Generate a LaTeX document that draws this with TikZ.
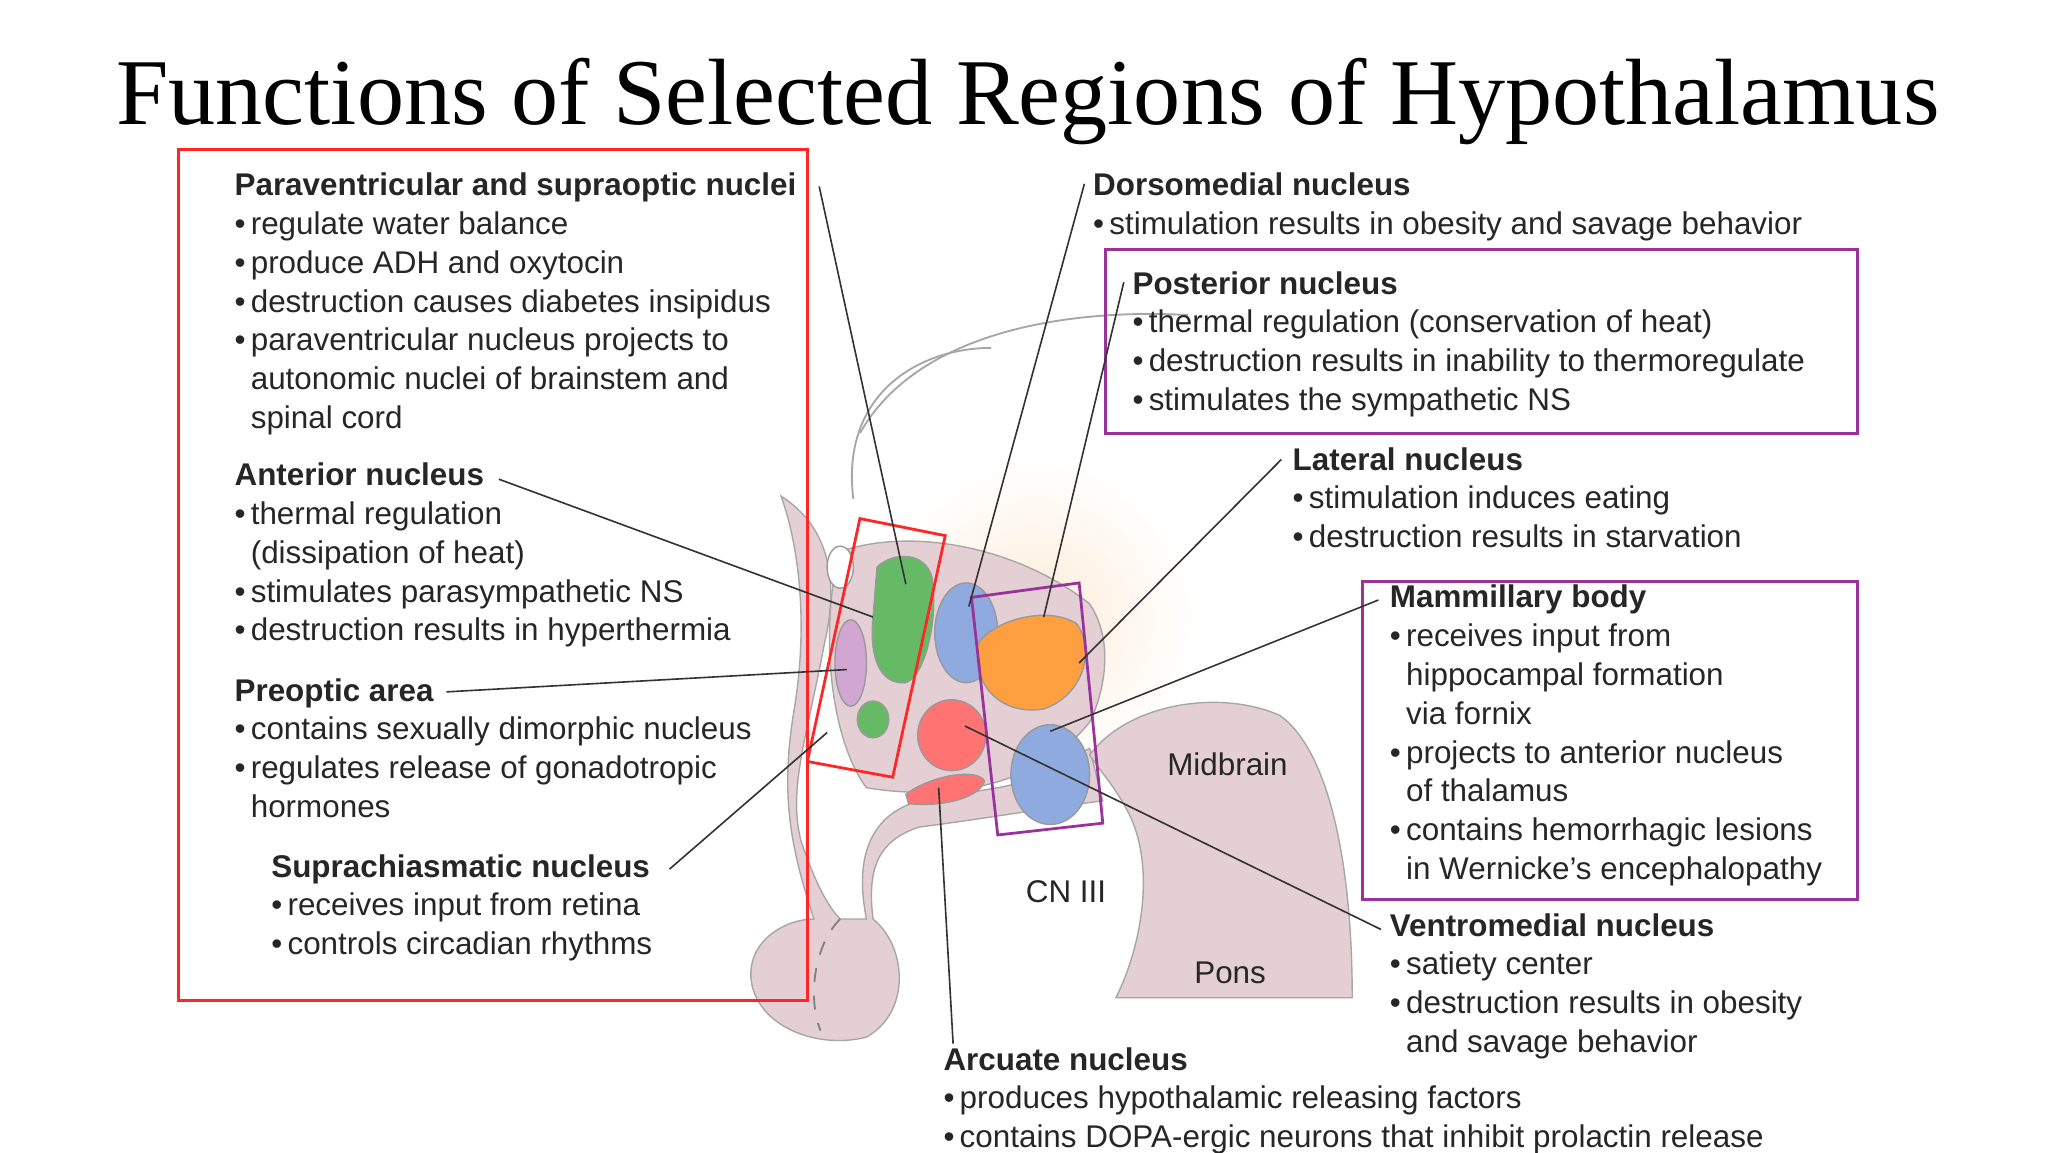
\documentclass[tikz,border=0pt]{standalone}
\usepackage{fontspec}
\setmainfont{Liberation Sans}
\newfontfamily\titlefont{Liberation Serif}
\definecolor{tis}{RGB}{228,208,212}
\begin{document}
\begin{tikzpicture}[x=0.01cm,y=-0.01cm,
  lbl/.style={anchor=north west,align=left,inner sep=0pt,font=\fontsize{6.8pt}{8.4pt}\selectfont,text=black!85},
  lead/.style={black!80,line width=0.35pt},
  tissue/.style={fill=tis,draw=black!35,line width=0.3pt},
  nuc/.style={draw=black!40,line width=0.3pt}]
\useasboundingbox (0,0) rectangle (1560,877.5);
\fill[white] (0,0) rectangle (1560,877.5);
\shade[inner color=orange!15,outer color=white] (790,470) ellipse [x radius=120,y radius=120];
\node[font=\titlefont\fontsize{20.4pt}{22pt}\selectfont] (title) at (783,77) {Functions of Selected Regions of Hypothalamus};
% anatomy
\draw[black!35,line width=0.4pt] (650,380) .. controls (640,300) and (700,265) .. (755,265);
\draw[black!35,line width=0.4pt] (655,330) .. controls (700,250) and (820,235) .. (905,240);
\draw[tissue] (595,378) .. controls (630,400) and (640,440) .. (628,490) .. controls (615,560) and (600,600) .. (610,640) .. controls (620,670) and (630,690) .. (640,700) -- (660,700) .. controls (650,650) and (665,620) .. (700,610) -- (760,600) .. controls (790,595) and (810,580) .. (830,570) -- (840,610) .. controls (800,615) and (740,625) .. (700,630) .. controls (670,640) and (660,660) .. (665,700) .. controls (690,720) and (695,770) .. (660,790) .. controls (620,800) and (575,780) .. (572,745) .. controls (570,715) and (600,700) .. (620,700) .. controls (600,640) and (595,600) .. (605,540) .. controls (615,480) and (610,420) .. (595,378) -- cycle;
\draw[tissue] (640,420) .. controls (700,400) and (780,420) .. (830,460) .. controls (850,490) and (840,530) .. (830,550) .. controls (790,600) and (720,610) .. (660,600) .. controls (630,560) and (625,470) .. (640,420) -- cycle;
\draw[black!50,dashed] (640,700) .. controls (620,720) and (615,760) .. (625,785);
\draw[tissue] (830,575) .. controls (860,535) and (930,525) .. (975,545) .. controls (1010,570) and (1030,650) .. (1030,760) -- (850,760) .. controls (870,720) and (880,660) .. (860,620) .. controls (850,600) and (840,590) .. (830,575) -- cycle;
% nuclei
\draw[nuc,fill=green!55!black!60] (668,432) .. controls (680,420) and (705,420) .. (710,440) .. controls (715,470) and (705,515) .. (690,520) .. controls (670,522) and (662,500) .. (665,470) -- cycle;
\draw[nuc,fill=violet!35] (648,505) ellipse [x radius=12,y radius=33];
\draw[nuc,fill=cyan!45!blue!45] (736,482) ellipse [x radius=24,y radius=38];
\draw[nuc,fill=orange!75] (745,490) .. controls (760,470) and (800,462) .. (820,475) .. controls (835,495) and (825,530) .. (795,540) .. controls (765,545) and (740,525) .. (745,490) -- cycle;
\draw[nuc,fill=red!55] (725,560) ellipse [x radius=26,y radius=27];
\draw[nuc,fill=cyan!45!blue!45] (800,590) ellipse [x radius=30,y radius=38];
\draw[nuc,fill=red!55] (690,605) .. controls (710,590) and (745,585) .. (750,595) .. controls (745,610) and (710,615) .. (692,612) -- cycle;
\draw[nuc,fill=green!55!black!60] (665,548) ellipse [x radius=12,y radius=14];
\draw[nuc,fill=white] (640,432) ellipse [x radius=10,y radius=16];
% boxes
\draw[red!85,line width=0.6pt] (136,114) rectangle (615,762);
\draw[red!85,line width=0.6pt] (655,395) -- (720,408) -- (680,592) -- (615,580) -- cycle;
\draw[violet!80,line width=0.6pt] (740,455) -- (822,444) -- (840,627) -- (760,636) -- cycle;
\draw[violet!80,line width=0.6pt] (842,190) rectangle (1415,330);
\draw[violet!80,line width=0.6pt] (1038,443) rectangle (1415,685);
% labels
\node[lbl] (pv) at (178,131) {\textbf{Paraventricular and supraoptic nuclei}\\
\textbullet\,regulate water balance\\
\textbullet\,produce ADH and oxytocin\\
\textbullet\,destruction causes diabetes insipidus\\
\textbullet\,paraventricular nucleus projects to\\
\phantom{\textbullet\,}autonomic nuclei of brainstem and\\
\phantom{\textbullet\,}spinal cord};
\node[lbl] (an) at (178,352) {\textbf{Anterior nucleus}\\
\textbullet\,thermal regulation\\
\phantom{\textbullet\,}(dissipation of heat)\\
\textbullet\,stimulates parasympathetic NS\\
\textbullet\,destruction results in hyperthermia};
\node[lbl] (po) at (178,516) {\textbf{Preoptic area}\\
\textbullet\,contains sexually dimorphic nucleus\\
\textbullet\,regulates release of gonadotropic\\
\phantom{\textbullet\,}hormones};
\node[lbl] (sc) at (206,650) {\textbf{Suprachiasmatic nucleus}\\
\textbullet\,receives input from retina\\
\textbullet\,controls circadian rhythms};
\node[lbl] (dm) at (832,131) {\textbf{Dorsomedial nucleus}\\
\textbullet\,stimulation results in obesity and savage behavior};
\node[lbl] (pn) at (862,206) {\textbf{Posterior nucleus}\\
\textbullet\,thermal regulation (conservation of heat)\\
\textbullet\,destruction results in inability to thermoregulate\\
\textbullet\,stimulates the sympathetic NS};
\node[lbl] (ln) at (984,340) {\textbf{Lateral nucleus}\\
\textbullet\,stimulation induces eating\\
\textbullet\,destruction results in starvation};
\node[lbl] (mb) at (1058,445) {\textbf{Mammillary body}\\
\textbullet\,receives input from\\
\phantom{\textbullet\,}hippocampal formation\\
\phantom{\textbullet\,}via fornix\\
\textbullet\,projects to anterior nucleus\\
\phantom{\textbullet\,}of thalamus\\
\textbullet\,contains hemorrhagic lesions\\
\phantom{\textbullet\,}in Wernicke's encephalopathy};
\node[lbl] (vm) at (1058,695) {\textbf{Ventromedial nucleus}\\
\textbullet\,satiety center\\
\textbullet\,destruction results in obesity\\
\phantom{\textbullet\,}and savage behavior};
\node[lbl] (ar) at (718,797) {\textbf{Arcuate nucleus}\\
\textbullet\,produces hypothalamic releasing factors\\
\textbullet\,contains DOPA-ergic neurons that inhibit prolactin release};
\node[lbl,anchor=center] (mid) at (935,582) {Midbrain};
\node[lbl,anchor=center] (cn) at (812,679) {CN III};
\node[lbl,anchor=center] (pons) at (937,741) {Pons};
% leader lines
\coordinate (pvE) at (690,445); \coordinate (anE) at (665,470);
\coordinate (poE) at (645,510); \coordinate (scE) at (630,558);
\coordinate (dmE) at (738,462); \coordinate (pnE) at (795,470);
\coordinate (lnE) at (822,505); \coordinate (mbE) at (800,557);
\coordinate (vmE) at (735,553); \coordinate (arE) at (715,600);
\draw[lead] (624,142) -- (pvE);
\draw[lead] (380,365) -- (anE);
\draw[lead] (340,527) -- (poE);
\draw[lead] (510,662) -- (scE);
\draw[lead] (826,140) -- (dmE);
\draw[lead] (856,215) -- (pnE);
\draw[lead] (976,350) -- (lnE);
\draw[lead] (1050,457) -- (mbE);
\draw[lead] (1052,708) -- (vmE);
\draw[lead] (726,795) -- (arE);
\end{tikzpicture}
\end{document}
